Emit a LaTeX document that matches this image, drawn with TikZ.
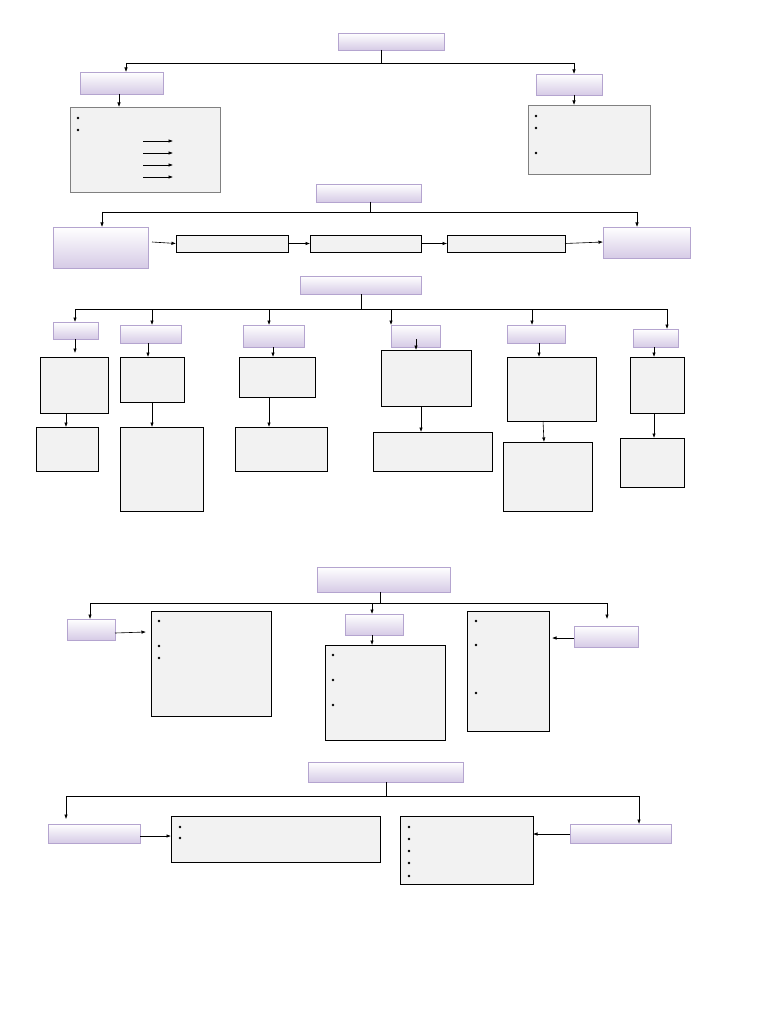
\documentclass[tikz,border=0pt]{standalone}
\usetikzlibrary{arrows.meta}
\definecolor{lav}{HTML}{D6CBE6}
\definecolor{lavd}{HTML}{B4A4CF}
\definecolor{gbox}{HTML}{F2F2F2}
\tikzset{
 hd/.style={top color=white,bottom color=lav,draw=lavd,line width=0.5pt},
 gb/.style={fill=gbox,draw=black,line width=0.6pt},
 gg/.style={fill=gbox,draw=gray,line width=0.6pt},
 ln/.style={line width=0.6pt},
 ar/.style={line width=0.6pt,-{Latex[length=4.5pt,width=3.5pt]}},
 dot/.style={circle,fill=black,inner sep=0,minimum size=2.6pt}
}
\newcommand\bx[6]{\node[#1,inner sep=0,outer sep=0,anchor=north west,minimum width={#5-#3},minimum height={#6-#4}] (#2) at (#3,#4) {};}
\newcommand\dt[2]{\node[dot] at (#1,#2) {};}
\begin{document}
\begin{tikzpicture}[x=1pt,y=-1pt]
\useasboundingbox (0,0) rectangle (768,1024);
% section 1
\bx{hd}{t1}{338}{33}{444}{50}
\bx{hd}{a1}{80}{72}{163}{94}
\bx{hd}{b1}{536}{74}{602}{95}
\bx{gg}{g1}{70}{107}{220}{192}
\bx{gg}{g2}{528}{105}{650}{174}
\draw[ln] (381,50) -- (381,63) (126,63) -- (574,63);
\draw[ar] (126,63) -- (126,72);
\draw[ar] (574,63) -- (574,74);
\draw[ar] (119,94) -- (119,107);
\draw[ar] (574,95) -- (574,105);
\dt{78}{118}\dt{78}{130}
\foreach \y in {141,153,165,177} {\draw[ar] (143,\y) -- (173,\y);}
\dt{536}{116}\dt{536}{128}\dt{536}{153}
% section 2
\bx{hd}{t2}{316}{184}{421}{202}
\bx{hd}{l2}{53}{227}{148}{268}
\bx{hd}{r2}{603}{227}{690}{258}
\bx{gb}{p1}{176}{235}{288}{252}
\bx{gb}{p2}{310}{235}{421}{252}
\bx{gb}{p3}{447}{235}{565}{252}
\draw[ln] (370,202) -- (370,212) (102,212) -- (637,212);
\draw[ar] (102,212) -- (102,227);
\draw[ar] (637,212) -- (637,227);
\draw[ar] (152,242) -- (p1.west);
\draw[ar] (p1.east) -- (p2.west);
\draw[ar] (p2.east) -- (p3.west);
\draw[ar] (p3.east) -- (603,242);
% section 3
\bx{hd}{t3}{300}{276}{421}{294}
\draw[ln] (361,294) -- (361,309) (75,309) -- (667,309);
\bx{hd}{h1}{53}{322}{98}{339}
\bx{hd}{h2}{120}{325}{181}{343}
\bx{hd}{h3}{243}{325}{304}{347}
\bx{hd}{h4}{391}{325}{440}{347}
\bx{hd}{h5}{507}{325}{565}{343}
\bx{hd}{h6}{633}{329}{678}{347}
\foreach \x/\y in {75/322,152/325,269/325,391/325,532/325,667/329} {\draw[ar] (\x,309) -- (\x,\y);}
\bx{gb}{m1}{40}{357}{108}{413}
\bx{gb}{n1}{36}{427}{98}{471}
\bx{gb}{m2}{120}{357}{184}{402}
\bx{gb}{n2}{120}{427}{203}{511}
\bx{gb}{m3}{239}{357}{315}{397}
\bx{gb}{n3}{235}{427}{327}{471}
\bx{gb}{m4}{381}{350}{471}{406}
\bx{gb}{n4}{373}{432}{492}{471}
\bx{gb}{m5}{507}{357}{596}{421}
\bx{gb}{n5}{503}{442}{592}{511}
\bx{gb}{m6}{630}{357}{684}{413}
\bx{gb}{n6}{620}{438}{684}{487}
\draw[ar] (75,339) -- (75,353);
\draw[ar] (66,413) -- (66,427);
\draw[ar] (148,343) -- (148,357);
\draw[ar] (152,402) -- (152,427);
\draw[ar] (273,347) -- (273,357);
\draw[ar] (269,397) -- (269,427);
\draw[ar] (416,339) -- (416,350);
\draw[ar] (421,406) -- (421,432);
\draw[ar] (539,343) -- (539,357);
\draw[ar] (543,421) -- (544,442);
\draw[ar] (654,347) -- (654,357);
\draw[ar] (654,413) -- (654,438);
% section 4
\bx{hd}{t4}{317}{567}{450}{592}
\bx{hd}{l4}{67}{619}{115}{640}
\bx{hd}{c4}{345}{614}{403}{635}
\bx{hd}{r4}{574}{626}{638}{647}
\bx{gb}{q1}{151}{611}{271}{716}
\bx{gb}{q2}{325}{645}{445}{740}
\bx{gb}{q3}{467}{611}{549}{731}
\draw[ln] (380,592) -- (380,603) (90,603) -- (607,603);
\draw[ar] (90,603) -- (90,619);
\draw[ar] (372,603) -- (372,614);
\draw[ar] (607,603) -- (607,619);
\draw[ar] (115,633) -- (146,632);
\draw[ar] (372,635) -- (372,645);
\draw[ar] (574,638) -- (552,638);
\dt{159}{621}\dt{159}{646}\dt{159}{658}
\dt{333}{655}\dt{333}{680}\dt{333}{705}
\dt{476}{621}\dt{476}{645}\dt{476}{693}
% section 5
\bx{hd}{t5}{308}{762}{463}{782}
\bx{hd}{l5}{48}{824}{140}{843}
\bx{hd}{r5}{570}{824}{671}{843}
\bx{gb}{s1}{171}{816}{380}{862}
\bx{gb}{s2}{400}{816}{533}{884}
\draw[ln] (386,782) -- (386,796) (66,796) -- (639,796);
\draw[ar] (66,796) -- (66,819);
\draw[ar] (639,796) -- (639,824);
\draw[ar] (140,836) -- (171,836);
\draw[ar] (570,834) -- (533,834);
\dt{180}{827}\dt{180}{838}
\foreach \y in {827,839,851,863,876} {\dt{409}{\y}}
\end{tikzpicture}
\end{document}
